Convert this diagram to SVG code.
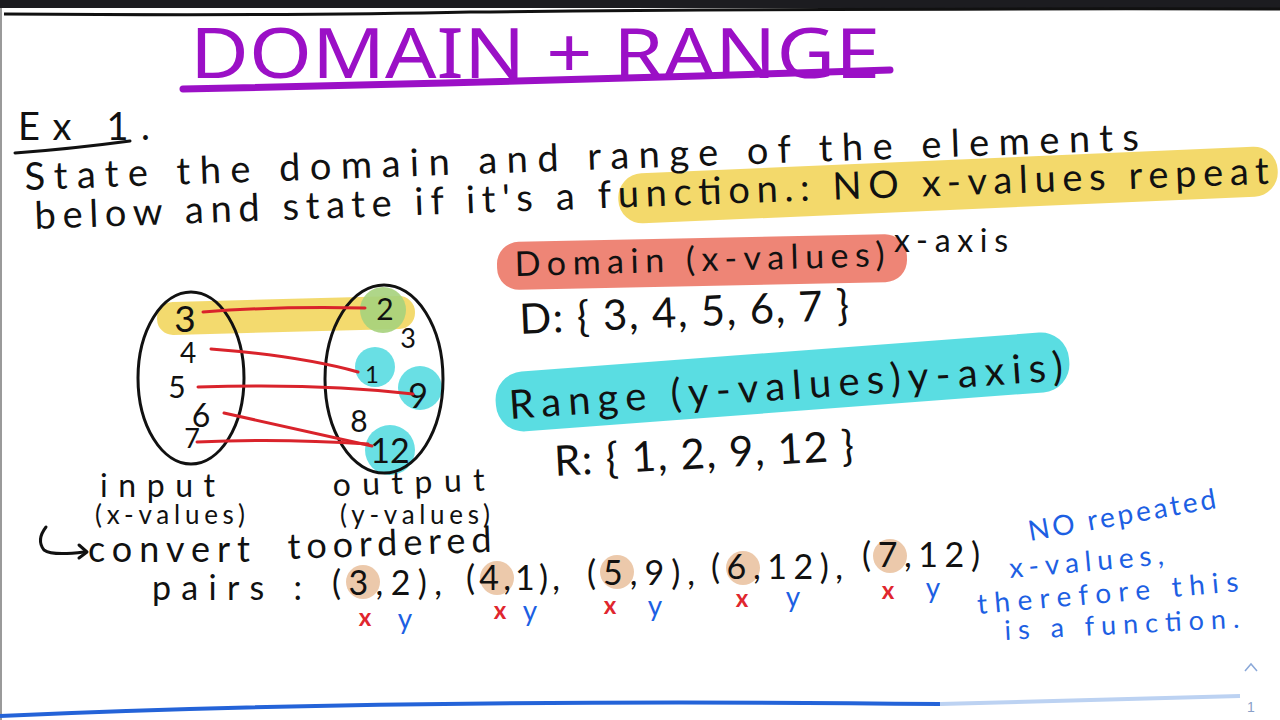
<svg xmlns="http://www.w3.org/2000/svg" width="1280" height="720" viewBox="0 0 1280 720">
<style>
  .hand { font-family: Lato, "Open Sans", "Liberation Sans", sans-serif; font-weight: 400; fill: #111; }
  .num { font-family: Lato, "Open Sans", "Liberation Sans", sans-serif; font-weight: 400; fill: #111; text-anchor: middle; }
  .blue { font-family: Lato, "Open Sans", "Liberation Sans", sans-serif; font-weight: 400; fill: #1d5fe3; }
  .redx { font-family: Lato, "Open Sans", "Liberation Sans", sans-serif; font-weight: 700; fill: #e0262e; text-anchor: middle; }
  .bluey { font-family: Lato, "Open Sans", "Liberation Sans", sans-serif; font-weight: 400; fill: #1d5fe3; text-anchor: middle; }
  .set { fill: none; stroke: #111; stroke-width: 3; }
  .link { fill: none; stroke: #d9232b; stroke-width: 3; stroke-linecap: round; }
  .peach { fill: #e9bf9c; opacity: 0.85; }
  .cyan { fill: #4fd9df; opacity: 0.85; }
</style>
<rect x="0" y="0" width="1280" height="720" fill="#ffffff"/>
<rect x="0" y="0" width="1280" height="8" fill="#1c1c20"/>
<line x1="1" y1="8" x2="1" y2="720" stroke="#9a9a9a" stroke-width="2"/>
<path d="M4,14 Q300,16 470,12 Q900,8 1280,9" fill="none" stroke="#111" stroke-width="3"/>

<g id="title">
  <text x="190" y="78" font-family="'Noto Sans', Lato, sans-serif" font-weight="400" font-size="70" fill="#9b10c6" textLength="690" lengthAdjust="spacingAndGlyphs">DOMAIN + RANGE</text>
  <path d="M183,89 Q520,82 890,70" fill="none" stroke="#9b10c6" stroke-width="7" stroke-linecap="round"/>
</g>

<g id="example-heading">
  <text class="hand" x="18" y="140" font-size="38" textLength="132" lengthAdjust="spacing">Ex 1.</text>
  <path d="M15,153 Q70,149 130,141" fill="none" stroke="#111" stroke-width="3" stroke-linecap="round"/>
</g>

<g id="highlights">
  <rect x="618" y="160" width="660" height="50" rx="24" fill="#f0d14a" opacity="0.82" transform="rotate(-2.5 948 185)"/>
  <rect x="497" y="238" width="410" height="48" rx="22" fill="#ec7463" opacity="0.88" transform="rotate(-1.2 702 262)"/>
  <rect x="495" y="352" width="575" height="60" rx="28" fill="#43d8de" opacity="0.88" transform="rotate(-4.3 782 382)"/>
</g>

<g id="instructions">
  <text class="hand" x="25" y="190" font-size="38" textLength="1115" lengthAdjust="spacing" transform="rotate(-2.05 25 190)">State the domain and range of the elements</text>
  <text class="hand" x="35" y="229" font-size="38" textLength="1235" lengthAdjust="spacing" transform="rotate(-2.1 35 229)">below and state if it's a function.: NO x-values repeat</text>
</g>

<g id="domain">
  <text class="hand" x="515" y="276" font-size="34" textLength="370" lengthAdjust="spacing" transform="rotate(-1.5 515 276)">Domain (x-values)</text>
  <text class="hand" x="894" y="252" font-size="32" textLength="114" lengthAdjust="spacing">x-axis</text>
  <text class="hand" x="520" y="334" font-size="42" textLength="330" lengthAdjust="spacing" transform="rotate(-2.5 520 334)">D: { 3, 4, 5, 6, 7 }</text>
</g>

<g id="range">
  <text class="hand" x="510" y="419" font-size="40" textLength="555" lengthAdjust="spacing" transform="rotate(-4 510 419)">Range (y-values)y-axis)</text>
  <text class="hand" x="555" y="476" font-size="42" textLength="300" lengthAdjust="spacing" transform="rotate(-3 555 476)">R: { 1, 2, 9, 12 }</text>
</g>

<g id="mapping-highlight">
  <rect x="157" y="299" width="258" height="33" rx="16" fill="#f0d14a" opacity="0.8" transform="rotate(-1.5 286 315)"/>
  <circle cx="383" cy="310" r="23" fill="#a6d27c" opacity="0.9"/>
  <circle class="cyan" cx="375" cy="367" r="20"/>
  <circle class="cyan" cx="420" cy="388" r="22"/>
  <circle class="cyan" cx="390" cy="450" r="25"/>
</g>

<g id="input-set">
  <ellipse class="set" cx="191" cy="378" rx="53" ry="86"/>
  <text class="num" x="185" y="332" font-size="37">3</text>
  <text class="num" x="188" y="363" font-size="28">4</text>
  <text class="num" x="177" y="398" font-size="30">5</text>
  <text class="num" x="201" y="427" font-size="32">6</text>
  <text class="num" x="192" y="448" font-size="27">7</text>
  <text class="hand" x="100" y="497" font-size="32" textLength="115" lengthAdjust="spacing">input</text>
  <text class="hand" x="95" y="524" font-size="26" textLength="150" lengthAdjust="spacing">(x-values)</text>
</g>

<g id="output-set">
  <ellipse class="set" cx="384" cy="379" rx="59" ry="94"/>
  <text class="num" x="385" y="320" font-size="30">2</text>
  <text class="num" x="408" y="348" font-size="27">3</text>
  <text class="num" x="372" y="383" font-size="24">1</text>
  <text class="num" x="418" y="408" font-size="34">9</text>
  <text class="num" x="359" y="432" font-size="30">8</text>
  <text class="num" x="390" y="463" font-size="34">12</text>
  <text class="hand" x="333" y="496" font-size="32" textLength="152" lengthAdjust="spacing" transform="rotate(-2 333 496)">output</text>
  <text class="hand" x="340" y="524" font-size="26" textLength="150" lengthAdjust="spacing">(y-values)</text>
</g>

<g id="connectors">
  <path class="link" d="M203,312 Q280,306 365,308"/>
  <path class="link" d="M211,349 Q300,356 358,372"/>
  <path class="link" d="M198,387 Q320,383 413,394"/>
  <path class="link" d="M224,413 Q300,430 372,446"/>
  <path class="link" d="M197,442 Q280,438 368,444"/>
</g>

<g id="ordered-pairs">
  <path d="M46,527 Q36,540 44,550 Q52,556 84,552" fill="none" stroke="#111" stroke-width="3" stroke-linecap="round"/>
  <path d="M79,545 L87,552 L79,558" fill="none" stroke="#111" stroke-width="3" stroke-linecap="round" stroke-linejoin="round"/>
  <text class="hand" x="88" y="562" font-size="36" textLength="162" lengthAdjust="spacing">convert</text>
  <text class="hand" x="288" y="559" font-size="36" textLength="204" lengthAdjust="spacing" transform="rotate(-2 288 559)">toordered</text>

  <circle class="peach" cx="363" cy="582" r="17"/>
  <circle class="peach" cx="497" cy="578" r="17"/>
  <circle class="peach" cx="617" cy="572" r="17"/>
  <circle class="peach" cx="743" cy="568" r="17"/>
  <circle class="peach" cx="890" cy="556" r="17"/>

  <text class="hand" x="152" y="600" font-size="34" textLength="150" lengthAdjust="spacing">pairs :</text>
  <text class="hand" x="332" y="595" font-size="34" textLength="110" lengthAdjust="spacing">(3,2),</text>
  <text class="hand" x="466" y="590" font-size="34" textLength="94" lengthAdjust="spacing">(4,1),</text>
  <text class="hand" x="587" y="585" font-size="34" textLength="108" lengthAdjust="spacing">(5,9),</text>
  <text class="hand" x="711" y="579" font-size="34" textLength="132" lengthAdjust="spacing">(6,12),</text>
  <text class="hand" x="862" y="567" font-size="34" textLength="118" lengthAdjust="spacing">(7,12)</text>

  <text class="redx" x="365" y="626" font-size="24">x</text>
  <text class="redx" x="500" y="619" font-size="24">x</text>
  <text class="redx" x="610" y="614" font-size="24">x</text>
  <text class="redx" x="742" y="607" font-size="24">x</text>
  <text class="redx" x="888" y="599" font-size="24">x</text>
  <text class="bluey" x="405" y="629" font-size="28">y</text>
  <text class="bluey" x="530" y="621" font-size="28">y</text>
  <text class="bluey" x="655" y="616" font-size="28">y</text>
  <text class="bluey" x="793" y="607" font-size="28">y</text>
  <text class="bluey" x="933" y="598" font-size="28">y</text>
</g>

<g id="conclusion">
  <text class="blue" x="1030" y="541" font-size="28" textLength="190" lengthAdjust="spacing" transform="rotate(-10 1030 541)">NO repeated</text>
  <text class="blue" x="1010" y="578" font-size="28" textLength="155" lengthAdjust="spacing" transform="rotate(-5 1010 578)">x-values,</text>
  <text class="blue" x="978" y="614" font-size="28" textLength="262" lengthAdjust="spacing" transform="rotate(-5 978 614)">therefore this</text>
  <text class="blue" x="1005" y="640" font-size="27" textLength="235" lengthAdjust="spacing" transform="rotate(-3 1005 640)">is a function.</text>
</g>

<g id="footer">
  <path d="M0,716 Q400,698 940,704" fill="none" stroke="#2463d8" stroke-width="4"/>
  <path d="M940,704 Q1100,700 1240,696" fill="none" stroke="#bcd2f2" stroke-width="4"/>
  <polyline points="1245,671 1251,664 1257,671" fill="none" stroke="#8aa8d8" stroke-width="1.5"/>
  <text x="1247" y="712" font-family="'Liberation Sans', sans-serif" font-size="14" fill="#8aa0c8">1</text>
</g>
</svg>
